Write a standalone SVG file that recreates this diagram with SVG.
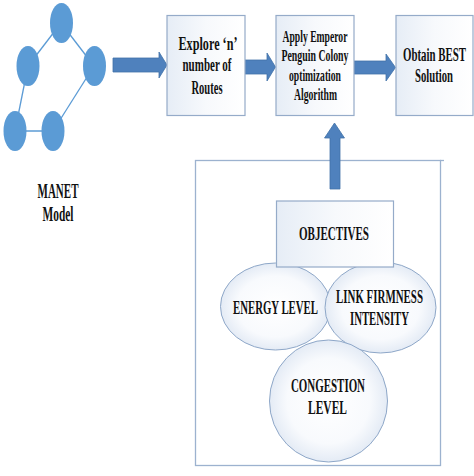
<svg xmlns="http://www.w3.org/2000/svg" width="474" height="476" viewBox="0 0 474 476">
<defs>
<linearGradient id="boxg" x1="0" y1="0" x2="1" y2="0">
<stop offset="0" stop-color="#e6edf6"/>
<stop offset="0.5" stop-color="#f7f9fc"/>
<stop offset="1" stop-color="#ffffff"/>
</linearGradient>
<radialGradient id="ellg" cx="0.5" cy="0.5" r="0.5">
<stop offset="0" stop-color="#ffffff"/>
<stop offset="0.7" stop-color="#f8fafd"/>
<stop offset="1" stop-color="#e4ebf5"/>
</radialGradient>
</defs>
<style>
.t{font-family:"Liberation Serif","Times New Roman",serif;font-weight:bold;fill:#111;text-anchor:middle}
.box{fill:url(#boxg);stroke:#95abc9;stroke-width:1.2}
.ell{fill:url(#ellg);stroke:#8ea7c8;stroke-width:1}
.node{fill:#5b9bd5}
.edge{stroke:#5b9bd5;stroke-width:1.3;fill:none}
.arr{fill:#4f81bd;stroke:#4172a8;stroke-width:0.8}
</style>
<rect width="474" height="476" fill="#ffffff"/>

<g id="manet">
<g class="edge">
<line x1="61" y1="23" x2="28" y2="66"/>
<line x1="61" y1="23" x2="94" y2="66"/>
<line x1="28" y1="66" x2="15" y2="131"/>
<line x1="15" y1="131" x2="53" y2="131"/>
<line x1="53" y1="131" x2="94" y2="66"/>
</g>
<ellipse class="node" cx="61.5" cy="23" rx="11.5" ry="20"/>
<ellipse class="node" cx="28" cy="66" rx="11.5" ry="20"/>
<ellipse class="node" cx="94.5" cy="66" rx="11.5" ry="20"/>
<ellipse class="node" cx="15" cy="131" rx="11.5" ry="20"/>
<ellipse class="node" cx="53" cy="131" rx="11.5" ry="20"/>
<g transform="scale(0.62,1)">
<text class="t" x="93.55" y="198" font-size="20.5" textLength="66.1" lengthAdjust="spacingAndGlyphs">MANET</text>
<text class="t" x="93.55" y="221" font-size="20.5" textLength="50" lengthAdjust="spacingAndGlyphs">Model</text>
</g>
</g>

<g id="connectors">
<polygon class="arr" points="113,58 159,58 159,52 167,65 159,78 159,72 113,72"/>
<polygon class="arr" points="245,60 267,60 267,53 275.5,67 267,81 267,74 245,74"/>
<polygon class="arr" points="354,61 386,61 386,54 395.5,67.5 386,81 386,74 354,74"/>
</g>

<g id="explore">
<rect class="box" x="167" y="15.5" width="78" height="100"/>
<g transform="scale(0.62,1)">
<text class="t" x="335.48" y="50" font-size="19.5" textLength="95.2" lengthAdjust="spacingAndGlyphs">Explore ‘n’</text>
<text class="t" x="333.87" y="71.5" font-size="19.5" textLength="79" lengthAdjust="spacingAndGlyphs">number of</text>
<text class="t" x="333.87" y="94" font-size="19.5" textLength="50" lengthAdjust="spacingAndGlyphs">Routes</text>
</g>
</g>

<g id="epc">
<rect class="box" x="276" y="15.5" width="78" height="100"/>
<g transform="scale(0.62,1)">
<text class="t" x="508.06" y="42" font-size="17" textLength="104.8" lengthAdjust="spacingAndGlyphs">Apply Emperor</text>
<text class="t" x="508.06" y="61.5" font-size="17" textLength="108.1" lengthAdjust="spacingAndGlyphs">Penguin Colony</text>
<text class="t" x="508.06" y="81" font-size="17" textLength="83.9" lengthAdjust="spacingAndGlyphs">optimization</text>
<text class="t" x="508.87" y="100.5" font-size="17" textLength="69.4" lengthAdjust="spacingAndGlyphs">Algorithm</text>
</g>
</g>

<g id="best">
<rect class="box" x="396" y="15.5" width="77" height="100"/>
<g transform="scale(0.62,1)">
<text class="t" x="700.81" y="61" font-size="19.5" textLength="101.6" lengthAdjust="spacingAndGlyphs">Obtain BEST</text>
<text class="t" x="700" y="82" font-size="19.5" textLength="61.3" lengthAdjust="spacingAndGlyphs">Solution</text>
</g>
</g>

<g id="objectives-panel">
<rect x="195.5" y="160.5" width="245" height="305" fill="#ffffff" stroke="#9cb2cf" stroke-width="1.3"/>
<line x1="440" y1="160.5" x2="444" y2="160.5" stroke="#9cb2cf" stroke-width="1.3"/>
</g>

<g id="connector-up">
<polygon class="arr" points="330,189 330,138 324.5,138 334.5,123 344.5,138 340,138 340,189"/>
</g>

<g id="energy">
<ellipse class="ell" cx="275.5" cy="306.5" rx="55" ry="43.5"/>
<text class="t" transform="scale(0.62,1)" x="444.35" y="314" font-size="18.5" textLength="137.1" lengthAdjust="spacingAndGlyphs">ENERGY LEVEL</text>
</g>
<g id="link">
<ellipse class="ell" cx="380.5" cy="307.5" rx="55.5" ry="45.5"/>
<g transform="scale(0.62,1)">
<text class="t" x="612.1" y="303" font-size="18.5" textLength="140.3" lengthAdjust="spacingAndGlyphs">LINK FIRMNESS</text>
<text class="t" x="612.1" y="325" font-size="18.5" textLength="95.2" lengthAdjust="spacingAndGlyphs">INTENSITY</text>
</g>
</g>
<g id="congestion">
<ellipse class="ell" cx="328.5" cy="401" rx="59" ry="61"/>
<g transform="scale(0.62,1)">
<text class="t" x="529.03" y="392" font-size="18.5" textLength="119.4" lengthAdjust="spacingAndGlyphs">CONGESTION</text>
<text class="t" x="528.23" y="414" font-size="18.5" textLength="62.9" lengthAdjust="spacingAndGlyphs">LEVEL</text>
</g>
</g>
<g id="objectives">
<rect class="box" x="276.5" y="201" width="117" height="66"/>
<text class="t" transform="scale(0.62,1)" x="538.71" y="240" font-size="18.5" textLength="112.9" lengthAdjust="spacingAndGlyphs">OBJECTIVES</text>
</g>
</svg>
